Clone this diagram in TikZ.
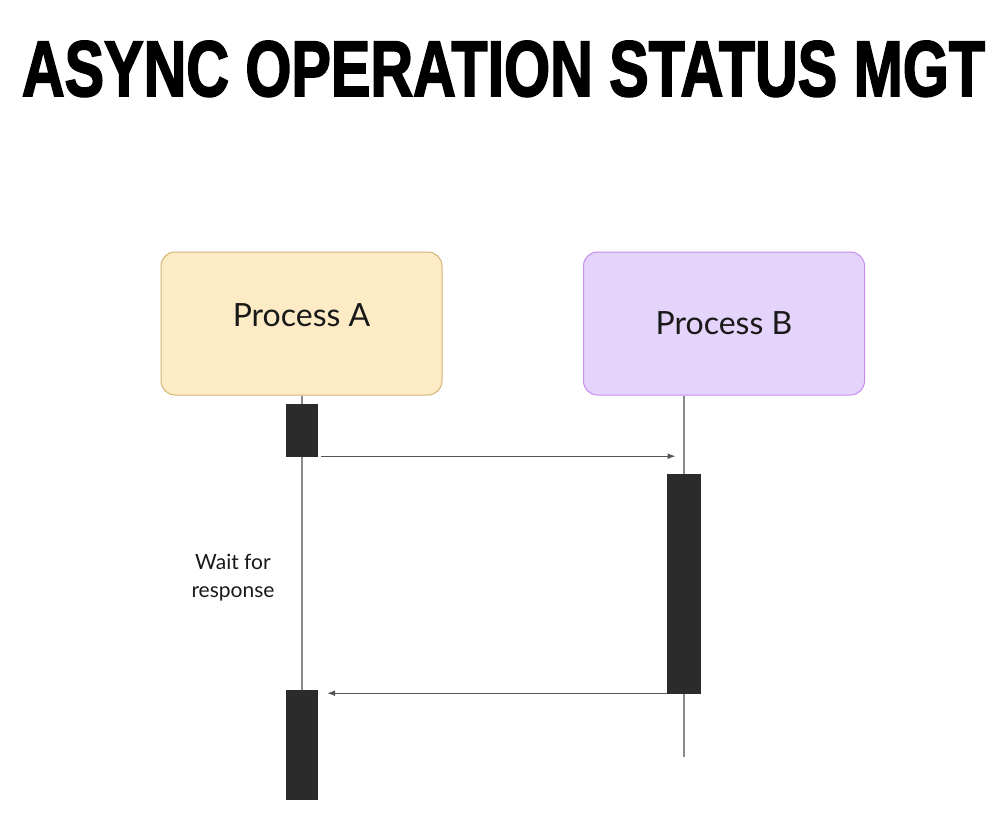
\documentclass[tikz,border=0pt]{standalone}
\usepackage{fontspec}
\usepackage{graphicx}
\setmainfont{Lato}
\newfontfamily\titlefont{Liberation Sans}[BoldFeatures={FakeBold=2.5}]
\usetikzlibrary{arrows.meta,backgrounds}
\definecolor{yfill}{HTML}{FCEBC4}
\definecolor{ydraw}{HTML}{D2B473}
\definecolor{pfill}{HTML}{E4D3FA}
\definecolor{pdraw}{HTML}{C68DEE}
\definecolor{actc}{HTML}{2B2B2B}
\definecolor{lifec}{HTML}{8A8A8A}
\definecolor{msgc}{HTML}{555555}
\tikzset{
  procbox/.style={rectangle, rounded corners=14pt, minimum width=281pt, minimum height=143pt, line width=1pt, inner sep=0pt},
  actbox/.style={rectangle, fill=actc, draw=actc, inner sep=0pt},
  lifeline/.style={draw=lifec, line width=2pt},
  msg/.style={draw=msgc, line width=1.2pt, -{Latex[length=8pt,width=6pt]}},
  ptext/.style={font=\fontsize{32}{38}\selectfont, text=black!90},
}
\begin{document}
\begin{tikzpicture}[x=1pt,y=-1pt]
\useasboundingbox (0,0) rectangle (1004,830);
% title
\node[inner sep=0pt, anchor=base] (title) at (503.5,96) {\resizebox{963pt}{55pt}{\titlefont\bfseries ASYNC OPERATION STATUS MGT}};
% process boxes
\node[procbox, fill=yfill, draw=ydraw] (pa) at (301.5,323.5) {};
\node[ptext] (pat) at (301.5,315) {Process A};
\node[procbox, fill=pfill, draw=pdraw, ptext] (pb) at (724,323.5) {Process B};
% activations
\coordinate (bend) at (683.5,757);
\node[actbox, minimum width=31pt, minimum height=52pt] (a1) at (301.5,430) {};
\node[actbox, minimum width=31pt, minimum height=109pt] (a2) at (301.5,744.5) {};
\node[actbox, minimum width=33pt, minimum height=219pt] (b1) at (683.5,583.5) {};
% background and lifelines
\begin{scope}[on background layer]
\fill[white] (0,0) rectangle (1004,830);
\draw[lifeline] (pa.south) -- (a2.north);
\draw[lifeline] (pb.south -| bend) -- (bend);
\end{scope}
% messages
\draw[msg, shorten <=4pt, shorten >=8pt] (a1.south east) -- (a1.south east -| bend);
\draw[msg, shorten >=10pt] (b1.south west) -- (b1.south west -| a2.east);
% note
\node[font=\fontsize{21}{28}\selectfont, align=center, text=black!90] (wait) at (233,578) {Wait for\\response};
\end{tikzpicture}
\end{document}
